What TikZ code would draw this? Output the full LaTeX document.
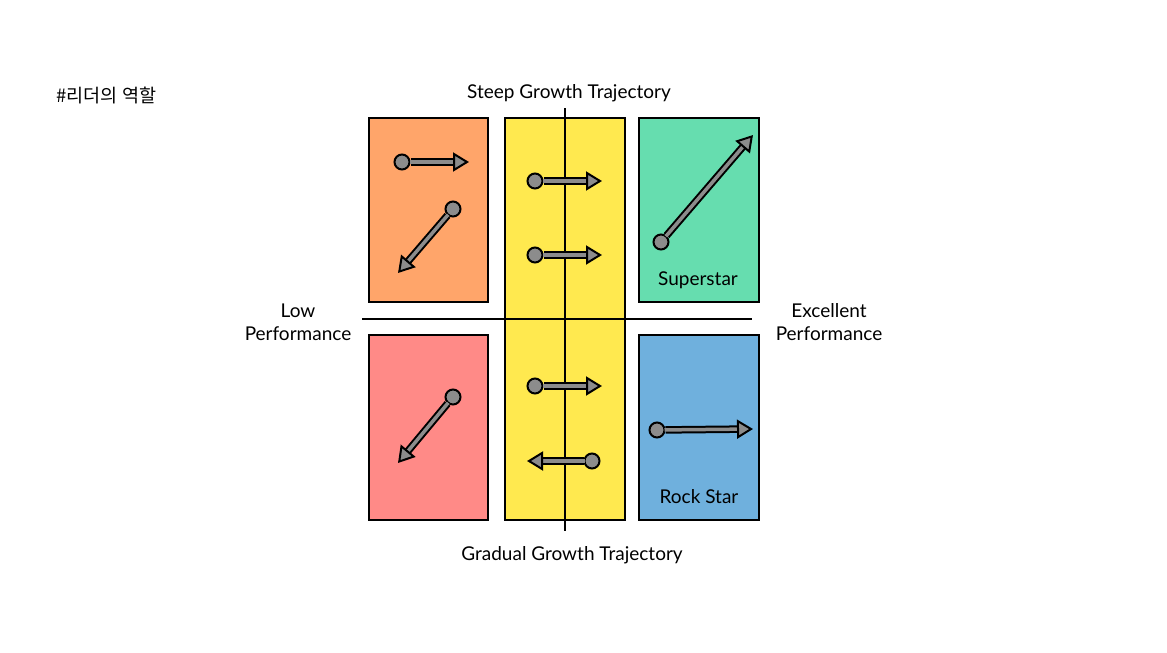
\documentclass[tikz,border=0pt]{standalone}
\usepackage{fontspec}
\setmainfont{Lato}
\newfontfamily\krfont{Noto Sans CJK KR}
\usetikzlibrary{arrows.meta,calc}
\definecolor{boxorange}{RGB}{255,165,106}
\definecolor{boxyellow}{RGB}{255,233,79}
\definecolor{boxgreen}{RGB}{102,221,175}
\definecolor{boxred}{RGB}{255,138,135}
\definecolor{boxblue}{RGB}{111,176,221}
\definecolor{tipgray}{RGB}{140,140,140}
\newcommand{\flow}[3]{
	\node[tail] (#1) at (#2) {};
	\coordinate (#1h) at (#3);
	\draw[shaft] (#1) -- ($(#1h)!11pt!(#1)$);
	\draw[core] (#1) -- ($(#1h)!11pt!(#1)$);
	\draw[head] ($(#1h)!15pt!(#1)$) -- (#1h);
	}

\begin{document}
\begin{tikzpicture}[
      x=1pt, y=-1pt, %one unit is one pixel of the reference
      panel/.style={draw, line width=2.6pt},
      axis/.style={line width=2.6pt},
      tail/.style={circle, draw, line width=2pt, fill=tipgray, minimum size=15pt, inner sep=0pt},
      shaft/.style={line width=7.5pt},
      core/.style={line width=3.5pt, draw=tipgray, shorten <=-1pt},
      head/.style={-{Triangle[length=16pt,width=19pt,line width=2pt,fill=tipgray]}, line width=2pt},
      label/.style={font=\fontsize{19}{23}\selectfont, align=center}
    ]
    \useasboundingbox (0,0) rectangle (1167,653);
    % Title
    \node[anchor=west, font=\krfont\fontsize{18.5}{22}\selectfont] (title) at (53,95) {\#리더의 역할};
    % Draw the panels
    \draw[panel, fill=boxorange] (369,118) rectangle (488,302);
    \draw[panel, fill=boxyellow] (505,118) rectangle (625,520);
    \draw[panel, fill=boxgreen] (639,118) rectangle (759,302);
    \draw[panel, fill=boxred] (369,335) rectangle (488,520);
    \draw[panel, fill=boxblue] (639,335) rectangle (759,520);
    % Axes
    \draw[axis] (362,319) -- (752,319);
    \draw[axis] (565,108) -- (565,531);
    % Axis labels
    \node[label] (steep) at (569,93) {Steep Growth Trajectory};
    \node[label] (gradual) at (572,555) {Gradual Growth Trajectory};
    \node[label] (low) at (298,322) {Low\\Performance};
    \node[label] (excellent) at (829,322) {Excellent\\Performance};
    \node[label] (superstar) at (698,280) {Superstar};
    \node[label] (rockstar) at (699,497) {Rock Star};
    % Draw the arrows
    \flow{oa}{402,162}{469,162};
    \flow{ob}{453,209}{398,273};
    \flow{ya}{535,181}{602,181};
    \flow{yb}{535,255}{602,255};
    \flow{ga}{661,242}{753,135};
    \flow{ra}{453,397}{398,463};
    \flow{yc}{535,386}{602,386};
    \flow{yd}{592,461}{527,461};
    \flow{ba}{657,430}{753,429};
\end{tikzpicture}
\end{document}
